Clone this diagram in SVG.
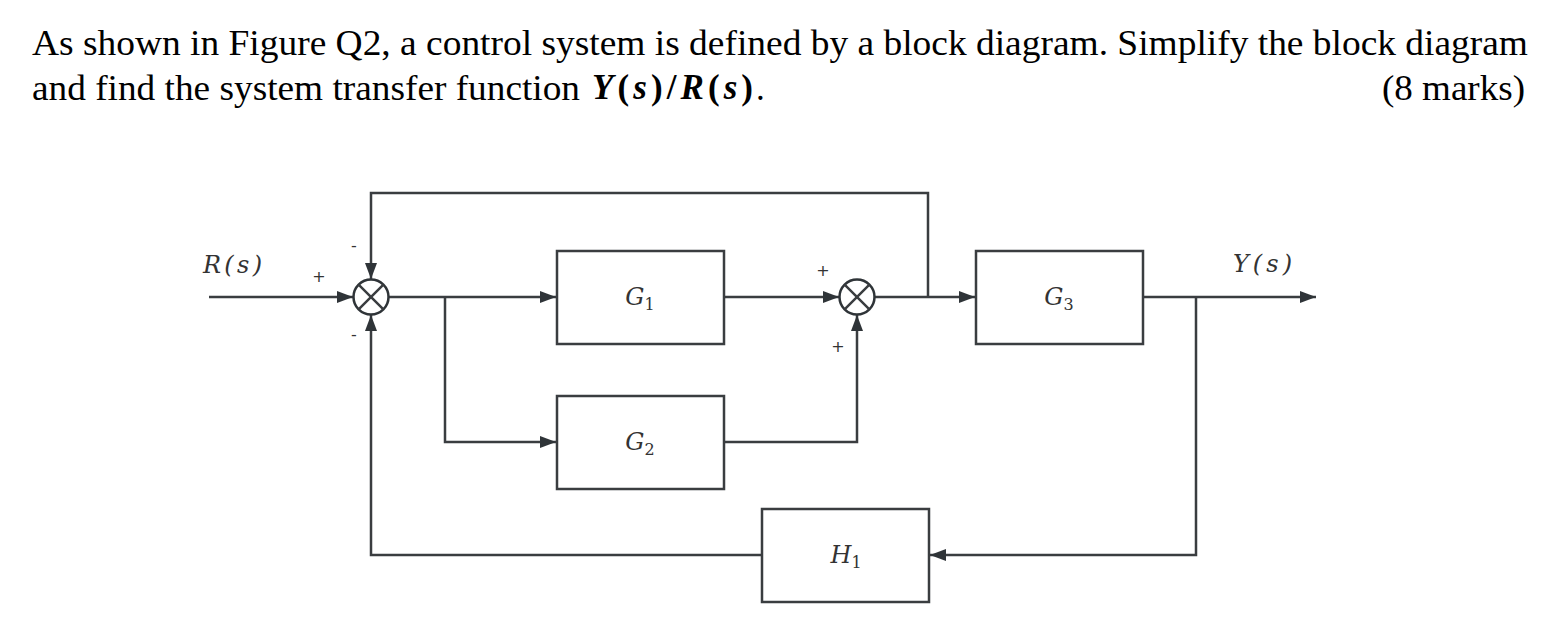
<svg xmlns="http://www.w3.org/2000/svg" width="1558" height="622" viewBox="0 0 1558 622">
<style>
.t{font-family:"Liberation Serif",serif;font-size:35px;fill:#000}
.mb{font-weight:bold}
.mi{font-weight:bold;font-style:italic}
.m{font-family:"DejaVu Serif","Liberation Serif",serif;font-style:italic;font-size:24px;fill:#333}
.sub{font-family:"DejaVu Serif","Liberation Serif",serif;font-style:normal;font-size:16px}
.sg{font-family:"DejaVu Sans","Liberation Sans",sans-serif;font-size:16px;fill:#333}
.box{fill:#fff;stroke:#3a3d40;stroke-width:2.5}
.ln{fill:none;stroke:#3a3d40;stroke-width:2.5}
.sum{fill:#fff;stroke:#2f3438;stroke-width:2.5}
</style>
<defs>
<marker id="ar" viewBox="0 0 16 12" refX="16" refY="6" markerWidth="16" markerHeight="12" markerUnits="userSpaceOnUse" orient="auto">
<path d="M0,0 L16,6 L0,12 z" fill="#2f3438"/>
</marker>
</defs>
<g id="title">
<text class="t" x="32" y="55" textLength="1496" lengthAdjust="spacingAndGlyphs">As shown in Figure Q2, a control system is defined by a block diagram. Simplify the block diagram</text>
<text class="t" x="32" y="100" textLength="548" lengthAdjust="spacingAndGlyphs">and find the system transfer function</text>
<text class="t" x="592" y="99" textLength="161" lengthAdjust="spacing"><tspan class="mi">Y</tspan><tspan class="mb">(</tspan><tspan class="mi">s</tspan><tspan class="mb">)/</tspan><tspan class="mi">R</tspan><tspan class="mb">(</tspan><tspan class="mi">s</tspan><tspan class="mb">)</tspan></text>
<text class="t" x="756" y="100">.</text>
<text class="t" x="1382" y="100" textLength="143" lengthAdjust="spacingAndGlyphs">(8 marks)</text>
</g>
<g id="connectors">
<path class="ln" d="M209,297 H353" marker-end="url(#ar)"/>
<path class="ln" d="M928,297 V193 H371 V279" marker-end="url(#ar)"/>
<path class="ln" d="M762,555 H371 V315" marker-end="url(#ar)"/>
<path class="ln" d="M389,297 H556" marker-end="url(#ar)"/>
<path class="ln" d="M445,297 V442 H556" marker-end="url(#ar)"/>
<path class="ln" d="M724,297 H839" marker-end="url(#ar)"/>
<path class="ln" d="M724,442 H857 V315" marker-end="url(#ar)"/>
<path class="ln" d="M875,297 H975" marker-end="url(#ar)"/>
<path class="ln" d="M1143,297 H1316" marker-end="url(#ar)"/>
<path class="ln" d="M1196,297 V555 H930" marker-end="url(#ar)"/>
</g>
<g id="sum1">
<circle class="sum" cx="371" cy="297" r="17.5"/>
<path class="ln" d="M358.6,284.6 L383.4,309.4 M383.4,284.6 L358.6,309.4"/>
</g>
<g id="sum2">
<circle class="sum" cx="857" cy="297" r="17.5"/>
<path class="ln" d="M844.6,284.6 L869.4,309.4 M869.4,284.6 L844.6,309.4"/>
</g>
<g id="G1">
<rect class="box" x="557" y="251" width="167" height="93"/>
<text class="m" x="640" y="305" text-anchor="middle">G<tspan class="sub" dy="5">1</tspan></text>
</g>
<g id="G2">
<rect class="box" x="557" y="396" width="167" height="93"/>
<text class="m" x="640" y="450" text-anchor="middle">G<tspan class="sub" dy="5">2</tspan></text>
</g>
<g id="G3">
<rect class="box" x="976" y="251" width="167" height="93"/>
<text class="m" x="1059" y="305" text-anchor="middle">G<tspan class="sub" dy="5">3</tspan></text>
</g>
<g id="H1">
<rect class="box" x="762" y="509" width="167" height="93"/>
<text class="m" x="846" y="563" text-anchor="middle">H<tspan class="sub" dy="5">1</tspan></text>
</g>
<g id="labels">
<text class="m" x="203" y="273" textLength="59" lengthAdjust="spacing">R(s)</text>
<text class="m" x="1233" y="272" textLength="59" lengthAdjust="spacing">Y(s)</text>
<text class="sg" x="319" y="282" text-anchor="middle">+</text>
<text class="sg" x="354" y="251" text-anchor="middle">-</text>
<text class="sg" x="354" y="340" text-anchor="middle">-</text>
<text class="sg" x="823" y="276" text-anchor="middle">+</text>
<text class="sg" x="838" y="352" text-anchor="middle">+</text>
</g>
</svg>
